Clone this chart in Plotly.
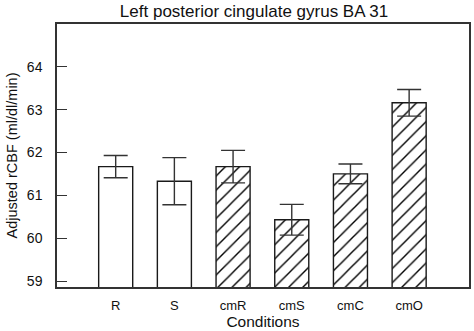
import plotly.graph_objects as go

categories = ["R", "S", "cmR", "cmS", "cmC", "cmO"]
values = [61.67, 61.33, 61.67, 60.43, 61.50, 63.16]
errors = [0.26, 0.55, 0.38, 0.36, 0.23, 0.31]
hatched = [False, False, True, True, True, True]
y_ticks = [59, 60, 61, 62, 63, 64]

xpos = list(range(len(categories)))
line_col = "#333333"

fig = go.Figure()
fig.add_trace(go.Bar(
    x=xpos, y=values, width=0.58,
    marker=dict(
        color="white",
        line=dict(color="#1a1a1a", width=1.4),
        pattern=dict(
            shape=["/" if h else "" for h in hatched],
            fgcolor="#000000", fgopacity=1, bgcolor="white", size=10, solidity=0.14,
        ),
    ),
    error_y=dict(type="data", array=errors, visible=True,
                 color="#333333", thickness=1.4, width=12),
    showlegend=False,
))

fig.update_layout(
    width=474, height=331,
    margin=dict(l=57, r=5, t=24, b=44),
    paper_bgcolor="white", plot_bgcolor="white",
    font=dict(family="Liberation Sans, Arial, sans-serif", color="#111111"),
    title=dict(text="Left posterior cingulate gyrus BA 31", x=0.536, xanchor="center",
               y=0.968, yanchor="middle", font=dict(size=17)),
    bargap=0.3,
)
fig.update_xaxes(
    range=[-1, 6.02], tickvals=xpos, ticktext=categories,
    showline=True, linecolor=line_col, linewidth=1.5, mirror=True,
    ticks="", showgrid=False, zeroline=False, automargin=False,
    tickfont=dict(size=13), ticklabelstandoff=6,
    title=dict(text="Conditions", font=dict(size=15.5), standoff=4),
)
fig.update_yaxes(
    range=[58.86, 65.0], tickvals=y_ticks,
    showline=True, linecolor=line_col, linewidth=1.5, mirror=True,
    ticks="inside", ticklen=10, tickcolor=line_col, tickwidth=1,
    showgrid=False, zeroline=False, automargin=False,
    tickfont=dict(size=14), ticklabelstandoff=10,
    title=dict(text="Adjusted rCBF (ml/dl/min)", font=dict(size=14.5), standoff=6),
)

fig.write_html("out.html")
